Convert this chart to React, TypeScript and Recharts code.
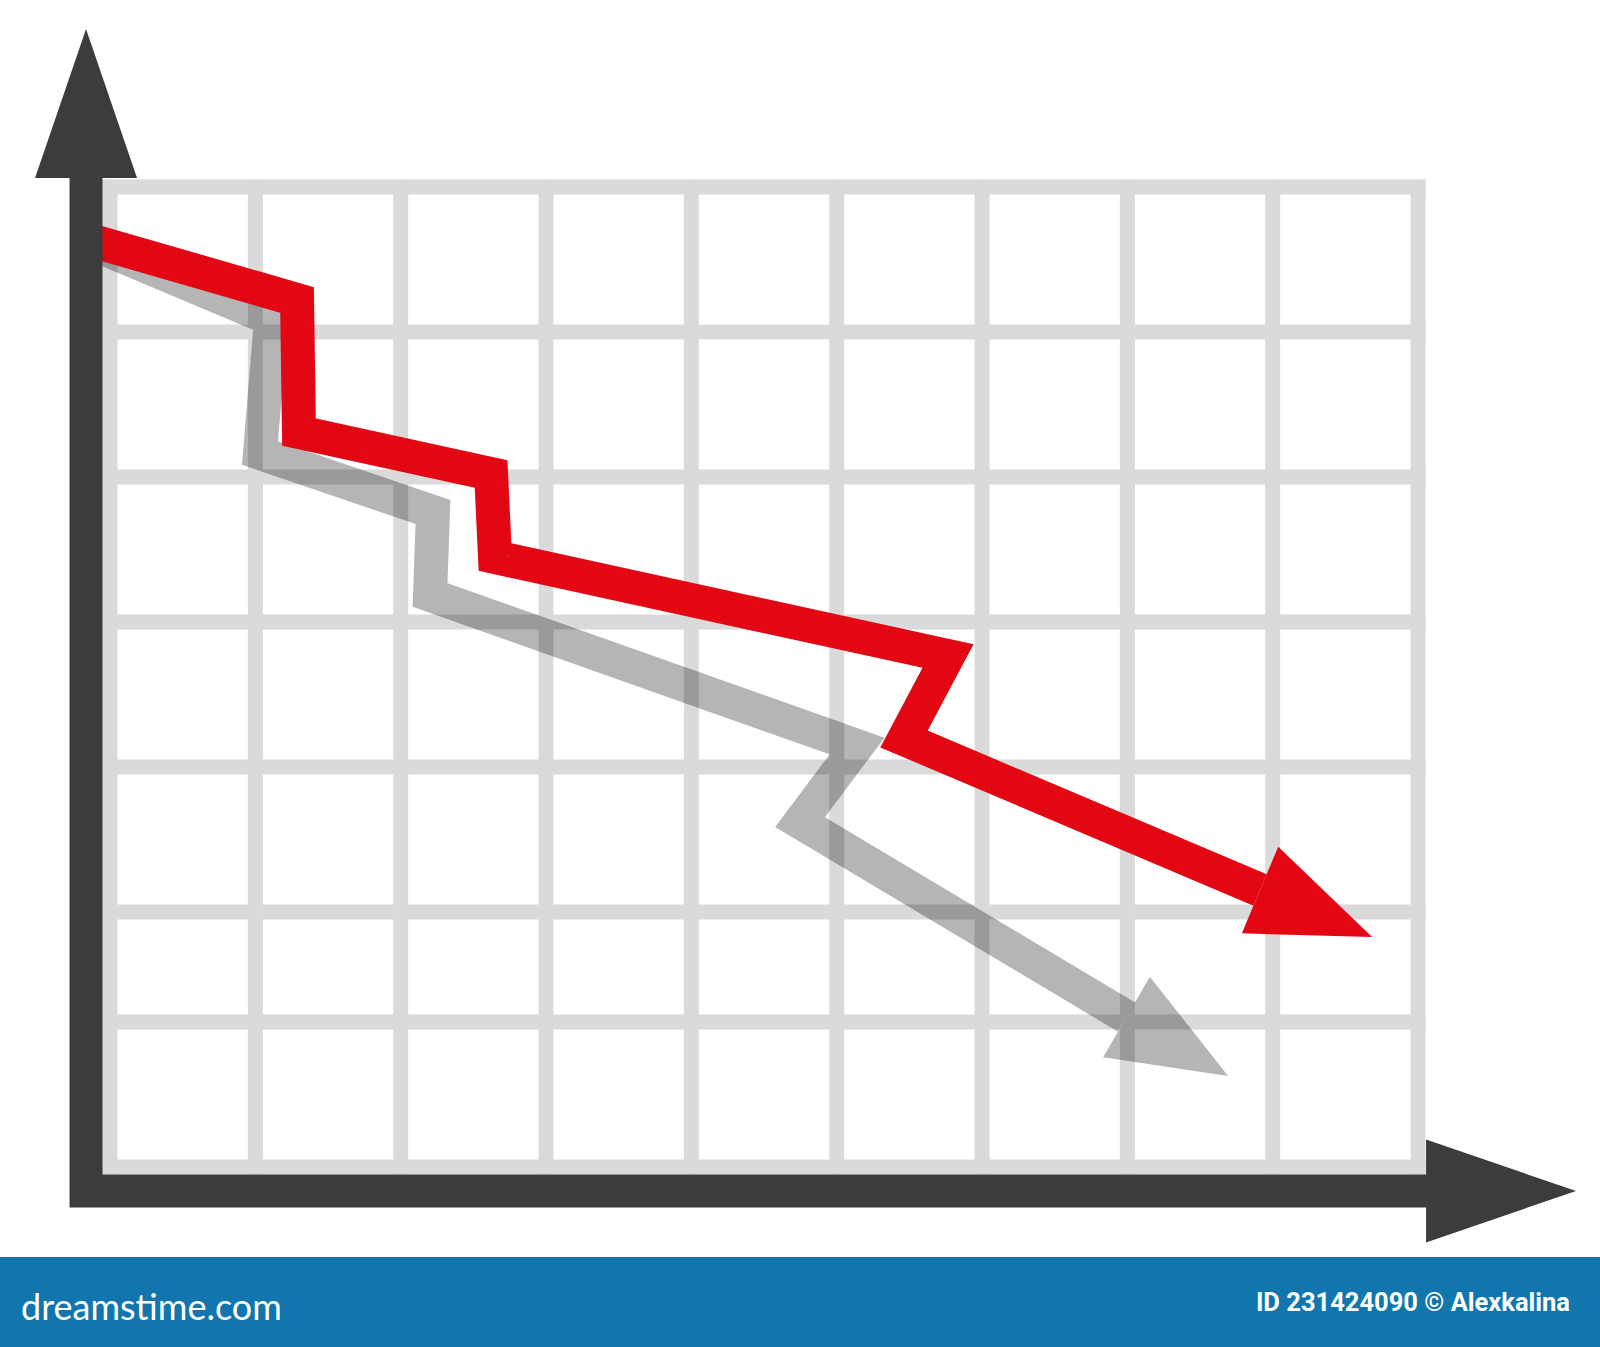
import { LineChart, Line, XAxis, YAxis, ReferenceLine } from "recharts";

// x: one grid column = 1 unit, y: grid height 0..98
const X_DOMAIN = [-0.757, 10.252];
const Y_DOMAIN = [-9, 116.7];

const gridCols = [0, 1, 2, 3, 4, 5, 6, 7, 8, 9];
const gridRows = [0, 14.5, 25.5, 40, 54.5, 69, 83.5, 98];
const GRID_LEFT = 0;
const GRID_RIGHT = 9;
const GRID_BOTTOM = 0;
const GRID_TOP = 98;

// red falling arrow (shaft points, last one is where the head starts)
const redLine = [
  { x: -0.165, y: 92.8 },
  { x: 1.287, y: 86.7 },
  { x: 1.3, y: 73.5 },
  { x: 2.622, y: 69.3 },
  { x: 2.649, y: 61.0 },
  { x: 5.766, y: 51.1 },
  { x: 5.463, y: 42.8 },
  { x: 7.913, y: 27.7 },
];
const redTip = { x: 8.684, y: 23.0 };

// grey shadow arrow
const grayLine = [
  { x: -0.165, y: 92.6 },
  { x: 1.108, y: 84.8 },
  { x: 1.032, y: 71.4 },
  { x: 2.222, y: 65.5 },
  { x: 2.202, y: 57.2 },
  { x: 5.14, y: 42.1 },
  { x: 4.748, y: 34.5 },
  { x: 6.994, y: 15.0 },
];
const grayTip = { x: 7.693, y: 9.1 };

// the two dark axes as one L shape
const axisLine = [
  { x: -0.165, y: 98.9 },
  { x: -0.165, y: -2.4 },
  { x: 9.055, y: -2.4 },
];
const yAxisTip = { x: -0.165, y: 113.8 };
const xAxisTip = { x: 10.087, y: -2.4 };

const RED = "#e30613";
const DARK = "#3c3c3c";
const GRID = "#dadada";

// triangle with its base centred on the first point and tip on the second
const arrowHead =
  (halfWidth: number, fill: string, opacity = 1) =>
  (p: any) => {
    const { x1, y1, x2, y2 } = p;
    const dx = x2 - x1;
    const dy = y2 - y1;
    const len = Math.hypot(dx, dy) || 1;
    const nx = (-dy / len) * halfWidth;
    const ny = (dx / len) * halfWidth;
    return (
      <polygon
        points={`${x1 + nx},${y1 + ny} ${x2},${y2} ${x1 - nx},${y1 - ny}`}
        fill={fill}
        fillOpacity={opacity}
      />
    );
  };

const last = (arr: { x: number; y: number }[]) => arr[arr.length - 1];

export default function App() {
  return (
    <div
      style={{
        position: "absolute",
        left: 0,
        top: 0,
        width: 1600,
        height: 1347,
        background: "#fff",
        overflow: "hidden",
      }}
    >
      <LineChart width={1600} height={1257} margin={{ top: 0, right: 0, bottom: 0, left: 0 }}>
        <XAxis type="number" dataKey="x" domain={X_DOMAIN} allowDataOverflow hide />
        <YAxis type="number" dataKey="y" domain={Y_DOMAIN} allowDataOverflow hide />

        {gridCols.map((c) => (
          <ReferenceLine
            key={`c${c}`}
            segment={[
              { x: c, y: GRID_BOTTOM },
              { x: c, y: GRID_TOP },
            ]}
            stroke={GRID}
            strokeWidth={15}
            strokeLinecap="square"
            ifOverflow="visible"
            zIndex={10}
          />
        ))}
        {gridRows.map((r) => (
          <ReferenceLine
            key={`r${r}`}
            segment={[
              { x: GRID_LEFT, y: r },
              { x: GRID_RIGHT, y: r },
            ]}
            stroke={GRID}
            strokeWidth={15}
            strokeLinecap="square"
            ifOverflow="visible"
            zIndex={10}
          />
        ))}

        <Line
          data={grayLine}
          dataKey="y"
          type="linear"
          stroke="#000"
          strokeOpacity={0.29}
          strokeWidth={34}
          strokeLinejoin="miter"
          strokeMiterlimit={10}
          dot={false}
          activeDot={false}
          isAnimationActive={false}
          zIndex={20}
        />
        <ReferenceLine
          segment={[last(grayLine), grayTip]}
          shape={arrowHead(46.5, "#000", 0.29)}
          ifOverflow="visible"
          zIndex={20}
        />

        <Line
          data={redLine}
          dataKey="y"
          type="linear"
          stroke={RED}
          strokeWidth={34}
          strokeLinejoin="miter"
          strokeMiterlimit={10}
          dot={false}
          activeDot={false}
          isAnimationActive={false}
          zIndex={30}
        />
        <ReferenceLine
          segment={[last(redLine), redTip]}
          shape={arrowHead(47, RED)}
          ifOverflow="visible"
          zIndex={30}
        />

        <Line
          data={axisLine}
          dataKey="y"
          type="linear"
          stroke={DARK}
          strokeWidth={33}
          strokeLinejoin="miter"
          dot={false}
          activeDot={false}
          isAnimationActive={false}
          zIndex={40}
        />
        <ReferenceLine
          segment={[axisLine[0], yAxisTip]}
          shape={arrowHead(51, DARK)}
          ifOverflow="visible"
          zIndex={40}
        />
        <ReferenceLine
          segment={[last(axisLine), xAxisTip]}
          shape={arrowHead(51.5, DARK)}
          ifOverflow="visible"
          zIndex={40}
        />
      </LineChart>

      <svg
        width={1600}
        height={90}
        style={{ position: "absolute", left: 0, top: 1257, display: "block" }}
      >
        <rect x={0} y={0} width={1600} height={90} fill="#1176ae" />
        <text
          x={21}
          y={63}
          fill="#fff"
          fontFamily="Lato, 'Noto Sans', sans-serif"
          fontSize={36}
        >
          dreamstime.com
        </text>
        <text
          x={1570}
          y={54}
          fill="#fff"
          textAnchor="end"
          fontFamily="Roboto, sans-serif"
          fontWeight={700}
          fontSize={25.5}
        >
          ID 231424090 © Alexkalina
        </text>
      </svg>
    </div>
  );
}
